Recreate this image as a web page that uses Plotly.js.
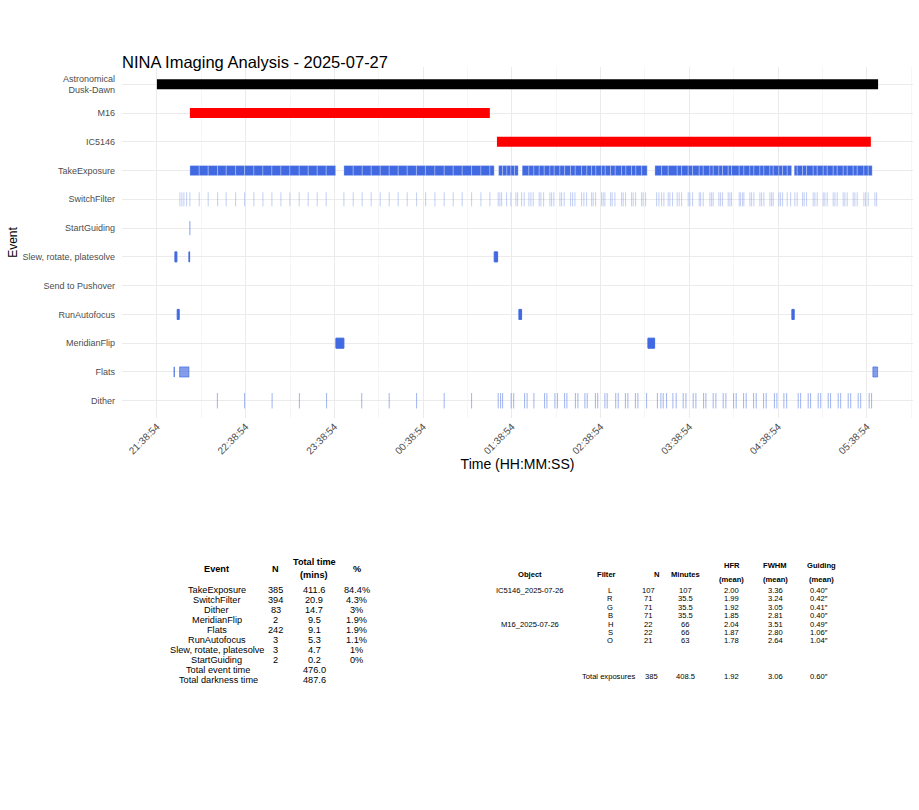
<!DOCTYPE html>
<html><head><meta charset="utf-8">
<script src="https://cdn.plot.ly/plotly-3.0.1.min.js"></script>
<style>body{margin:0;background:#fff}#chart{width:919px;height:810px}</style>
</head><body><div id="chart"></div>
<script>
// ---------------- DATA ----------------
// Night of 2025-07-26/27; all event times are minutes after astronomical dusk (21:38:54)
const duskClock = '2025-07-26T21:38:54';
const categories = ['Astronomical<br>Dusk-Dawn','M16','IC5146','TakeExposure','SwitchFilter','StartGuiding',
  'Slew, rotate, platesolve','Send to Pushover','RunAutofocus','MeridianFlip','Flats','Dither'];

const darknessStart = [0], darknessEnd = [487.6];
const m16Start = [22.3], m16End = [225.1];
const ic5146Start = [229.9], ic5146End = [482.7];

// TakeExposure: continuous runs, given as block boundaries (consecutive pairs = one block)
const exposureRunA = [22.31,28.60,34.68,41.04,46.85,53.21,59.29,65.58,71.67,77.75,83.84,89.92,96.21,102.29,108.38,114.46,120.82];
const exposureRunB = [126.43,132.72,138.80,144.89,150.97,157.06,163.14,169.23,175.45,181.53,187.96,194.24,200.33,206.41,212.77,219.06,225.14,228.05];
const exposureRunC = [231.02,233.73,236.64,239.34,241.84,244.27];
const exposureRunD = [246.98,251.51,254.89,258.47,261.85,265.71,268.61,272.47,275.65,279.70,282.81,287.14,290.72,293.90,296.81,300.66,303.10,306.75,309.86,314.18,317.09,320.94,323.85,327.71,331.49];
const exposureRunE = [336.70,341.23,345.69,351.77,354.75,359.21,362.19,366.65,369.35,373.88,376.11,379.97,382.47,386.26,388.55,393.69,396.87,400.93,403.63,407.69,410.39,414.45,416.68,420.53,423.04,426.14,429.12];
const exposureRunF = [430.88,432.91,436.55,439.25,443.72,446.43,450.48,453.19,457.25,459.95,464.01,466.71,470.77,473.47,478.00,480.91,483.61];

const switchFilterTimes = [15.55,16.90,18.25,20.08,22.31,28.60,34.68,41.04,46.85,53.21,59.29,65.58,71.67,77.75,83.84,89.92,96.21,102.29,108.38,114.46,
  126.43,132.72,138.80,144.89,150.97,157.06,163.14,169.23,175.58,181.67,187.96,194.24,200.33,206.41,212.77,219.06,225.14,
  230.75,231.90,233.05,236.43,239.34,242.72,243.87,246.57,248.33,251.51,252.86,254.42,258.47,259.62,261.45,265.71,266.86,268.41,
  272.47,273.62,275.38,279.70,281.06,282.61,287.14,288.69,290.52,293.90,294.98,296.61,300.66,301.74,302.89,306.75,307.83,309.65,
  314.18,315.26,316.89,320.94,322.03,323.65,327.71,328.79,330.41,337.85,339.40,341.23,342.78,345.69,346.84,348.66,351.77,353.13,
  354.75,359.21,360.36,362.19,366.65,367.60,369.35,373.88,375.03,376.11,379.97,381.12,382.47,386.26,387.41,388.55,393.69,394.64,
  395.99,396.87,400.93,402.08,403.63,407.69,408.84,410.39,414.45,415.60,416.68,420.53,421.68,423.04,426.14,428.45,431.35,432.91,
  436.55,437.64,439.25,443.72,444.87,446.43,450.48,451.63,453.19,457.25,458.40,459.95,464.01,465.16,466.71,470.77,471.92,473.47,
  478.00,479.15,480.91,485.44,486.59];

const startGuidingTimes = [22.25,22.35];
const slewStart = [12.17,21.64,228.05], slewEnd = [13.52,22.11,230.35];
const pushoverTimes = [];
const autofocusStart = [13.72,244.75,429.32], autofocusEnd = [15.08,246.57,430.88];
const meridianStart = [121.02,331.97], meridianEnd = [126.43,336.50];
const flatsStart = [11.62,15.35,484.09], flatsEnd = [11.78,21.64,487.27];

const ditherTimes = [40.90,59.29,77.89,96.34,114.73,138.47,157.06,175.58,194.24,212.77,230.75,232.38,233.73,239.54,241.23,248.60,250.29,
  254.89,262.12,263.68,269.09,270.78,275.65,277.20,282.95,284.64,289.37,290.93,296.47,298.03,302.89,304.45,310.20,311.89,316.75,318.44,
  323.51,325.20,331.09,338.39,340.75,342.31,344.61,348.87,351.10,355.83,357.66,362.59,364.42,369.62,371.18,376.11,377.94,382.87,384.70,
  389.91,391.66,396.67,398.43,403.43,405.19,410.19,411.95,417.49,419.18,423.91,425.81,433.58,435.21,440.34,441.97,447.10,448.80,453.87,
  455.49,460.63,462.32,467.39,469.08,474.15,475.84,481.58,483.21];

// Summary tables
const evtNames = ['TakeExposure','SwitchFilter','Dither','MeridianFlip','Flats','RunAutofocus','Slew, rotate, platesolve','StartGuiding'];
const evtN = ['385','394','83','2','242','3','3','2'];
const evtMins = ['411.6','20.9','14.7','9.5','9.1','5.3','4.7','0.2'];
const evtPct = ['84.4%','4.3%','3%','1.9%','1.9%','1.1%','1%','0%'];
const evtTotals = [['Total event time','476.0'],['Total darkness time','487.6']];

const objNames = ['IC5146_2025-07-26','','','','M16_2025-07-26','',''];
const filterNames = ['L','R','G','B','H','S','O'];
const filterN = ['107','71','71','71','22','22','21'];
const filterMins = ['107','35.5','35.5','35.5','66','66','63'];
const filterHFR = ['2.00','1.99','1.92','1.85','2.04','1.87','1.78'];
const filterFWHM = ['3.36','3.24','3.05','2.81','3.51','2.80','2.64'];
const filterGuiding = ['0.40″','0.42″','0.41″','0.40″','0.49″','1.06″','1.04″'];
const exposureTotals = ['Total exposures','385','408.5','1.92','3.06','0.60″'];

// ---------------- BUILD ----------------
const dusk0 = Date.parse(duskClock + 'Z');
function t(min){ return new Date(dusk0 + min*60000).toISOString().slice(0,23).replace('T',' '); }
const MS = 60000;
const ROYAL = 'rgb(65,105,225)';
const BW = 0.35;

function barTrace(cat, starts, ends, color, line){
  return {type:'bar', orientation:'h', y:starts.map(()=>cat), base:starts.map(t),
    x:starts.map((s,i)=>(ends[i]-s)*MS), width:BW, marker:{color:color, line:line||{width:0}},
    hoverinfo:'skip'};
}
function tickTrace(cat, times, color, size){
  return {type:'scatter', mode:'markers', x:times.map(t), y:times.map(()=>cat),
    marker:{symbol:'line-ns-open', size:size||11, color:color, line:{color:color, width:1}},
    hoverinfo:'skip', cliponaxis:false};
}
const expStarts=[], expEnds=[];
[exposureRunA,exposureRunB,exposureRunC,exposureRunD,exposureRunE,exposureRunF].forEach(run=>{
  for(let i=0;i<run.length-1;i++){ expStarts.push(run[i]); expEnds.push(run[i+1]); }
});

const traces = [
  barTrace(categories[0], darknessStart, darknessEnd, '#000000'),
  barTrace('M16', m16Start, m16End, '#ff0000'),
  barTrace('IC5146', ic5146Start, ic5146End, '#ff0000'),
  barTrace('TakeExposure', expStarts, expEnds, ROYAL, {color:'rgba(255,255,255,0.45)', width:0.6}),
  tickTrace('SwitchFilter', switchFilterTimes, 'rgba(65,105,225,0.32)', 10),
  tickTrace('StartGuiding', startGuidingTimes, 'rgba(65,105,225,0.35)', 10),
  barTrace('Slew, rotate, platesolve', slewStart, slewEnd, ROYAL, {color:ROYAL, width:1}),
  tickTrace('Send to Pushover', pushoverTimes, ROYAL, 10),
  barTrace('RunAutofocus', autofocusStart, autofocusEnd, ROYAL, {color:ROYAL, width:1}),
  barTrace('MeridianFlip', meridianStart, meridianEnd, ROYAL, {color:ROYAL, width:1}),
  barTrace('Flats', flatsStart, flatsEnd, 'rgba(65,105,225,0.65)', {color:'rgba(65,105,225,0.65)', width:1}),
  tickTrace('Dither', ditherTimes, 'rgba(65,105,225,0.5)', 11)
];

// layout geometry for table annotations
const W=919, H=810, M={l:122, r:6, t:67, b:392};
const px = x => (x - M.l)/(W - M.l - M.r);
const py = y => (H - M.b - y)/(H - M.t - M.b);
const ann = [];
function A(text, x, y, size, bold){
  ann.push({text: bold ? '<b>'+text+'</b>' : text, x:px(x), y:py(y), xref:'paper', yref:'paper',
    xanchor:'center', yanchor:'middle', showarrow:false, borderpad:0, font:{size:size, color:'#000'}});
}
// left table
const LS = 9.2;
A('Event',216.5,568.5,LS,true); A('N',275.5,568.5,LS,true);
A('Total time',314.3,562.3,LS,true); A('(mins)',314.3,575,LS,true); A('%',356.7,569,LS,true);
evtNames.forEach((n,i)=>{ const y=590+10*i;
  A(n,216.5,y,LS); A(evtN[i],275.5,y,LS); A(evtMins[i],314.3,y,LS); A(evtPct[i],356.7,y,LS); });
evtTotals.forEach((r,i)=>{ const y=670+10*i; A(r[0],218,y,LS); A(r[1],314.3,y,LS); });
// right table
const RS = 7.6, RSTEP = 8.4, RTOP = 590.5;
A('Object',530,574,RS,true); A('Filter',606.7,574,RS,true); A('N',656.7,574,RS,true); A('Minutes',685,574,RS,true);
A('HFR',731.7,565,RS,true); A('(mean)',731.7,579,RS,true);
A('FWHM',775,565,RS,true); A('(mean)',775,579,RS,true);
A('Guiding',821.7,565,RS,true); A('(mean)',821.7,579,RS,true);
filterNames.forEach((f,i)=>{ const y=RTOP+RSTEP*i;
  if(objNames[i]) A(objNames[i],529.5,y,RS);
  A(f,610,y,RS); A(filterN[i],648.3,y,RS); A(filterMins[i],685,y,RS);
  A(filterHFR[i],731.7,y,RS); A(filterFWHM[i],775,y,RS); A(filterGuiding[i],818.5,y,RS); });
A(exposureTotals[0],608.7,676,RS); A(exposureTotals[1],651.7,676,RS); A(exposureTotals[2],685,676,RS);
A(exposureTotals[3],731.7,676,RS); A(exposureTotals[4],775,676,RS); A(exposureTotals[5],818.5,676,RS);

const layout = {
  width:W, height:H, margin:{l:M.l, r:M.r, t:M.t, b:M.b, pad:0},
  paper_bgcolor:'#fff', plot_bgcolor:'#fff', showlegend:false, barmode:'overlay',
  font:{family:'Liberation Sans, Arial, sans-serif', color:'#000'},
  title:{text:'NINA Imaging Analysis - 2025-07-27', xref:'container', yref:'container',
    x:122/W, xanchor:'left', y:1-62/H, yanchor:'middle', font:{size:16.5, color:'#000'}},
  xaxis:{type:'date', range:[t(-23.6), t(511.2)], tick0:t(0), dtick:3600000, tickformat:'%H:%M:%S',
    tickangle:-45, ticks:'', showline:false, zeroline:false, showgrid:true, gridcolor:'#ebebeb', gridwidth:1,
    minor:{tick0:t(0), dtick:1800000, showgrid:true, gridcolor:'#f2f2f2', gridwidth:0.7},
    tickfont:{size:10, color:'#4d4d4d'},
    title:{text:'Time (HH:MM:SS)', font:{size:14, color:'#000'}, standoff:2}},
  yaxis:{type:'category', categoryorder:'array', categoryarray:categories, range:[11.6,-0.6],
    ticks:'', showline:false, zeroline:false, showgrid:true, gridcolor:'#ebebeb', gridwidth:1,
    tickfont:{size:9, color:'#4d4d4d'}, ticklabelstandoff:6,
    title:{text:'Event', font:{size:12, color:'#000'}}},
  annotations: ann
};
Plotly.newPlot('chart', traces, layout, {displayModeBar:false, staticPlot:true});
</script></body></html>
